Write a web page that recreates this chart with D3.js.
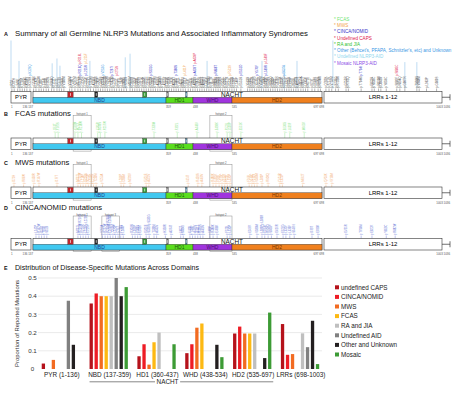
<!DOCTYPE html>
<html>
<head>
<meta charset="utf-8">
<script src="https://cdn.jsdelivr.net/npm/d3@7"></script>
<style>
  body { margin: 0; background: #fff; }
  svg { display: block; font-family: "Liberation Sans", Arial, Helvetica, sans-serif; }
</style>
</head>
<body>
<div id="chart"></div>
<script>
const width = 474;
const height = 395;

// ---------- protein map data ----------
const pyrRange = [1, 136];
const lrrRange = [698, 1003];
const proteinEnd = 1036;
const nachtDomains = ["NBD", "HD1", "WHD", "HD2"];
const nachtStarts = [137, 359, 438, 535];
const nachtEnds = [359, 438, 535, 697];
const motifStarts = [195, 240, 320, 361, 416];
const motifEnds = [204, 245, 327, 364, 420];
const tickGroups = [[1], [136, 137], [359], [438], [535], [697, 698], [1003, 1036]];

const catKeys = ["fcas", "mws", "cinca", "caps", "ra", "other", "aid", "mosaic"];
const catLabels = ["FCAS", "MWS", "CINCA/NOMID", "Undefined CAPS", "RA and JIA",
  "Other (Behcet's, PFAPA, Schnitzler's, etc) and Unknown", "Undefined NLRP3-AID", "Mosaic NLRP3-AID"];

// all germline mutations (panel A)
const mutsA = [
  "p.R7G", "p.D21H", "p.S46F", "p.E57K", "p.T75M", "p.R86W", "p.A104V", "p.K129R",
  "p.G138R", "p.L142P", "p.R147W", "p.I150T", "p.T154I", "p.S159I", "p.E162K", "p.R168Q", "p.I172T",
  "p.I177T", "p.F179S", "p.R183C", "p.V186M", "p.V198M", "p.P200T", "p.V207M", "p.M212L", "p.R216W",
  "p.G220S", "p.L225P", "p.C229Y", "p.T233M", "p.A238V", "p.G242R", "p.L245P", "p.G249S", "p.V253A",
  "p.R257W", "p.R260W", "p.L264H", "p.T267M", "p.L270P", "p.I275T", "p.F281L", "p.L284P", "p.I288M",
  "p.S293N", "p.M299V", "p.D303N", "p.L305P", "p.Q306L", "p.F309S", "p.E311K", "p.L316P", "p.G321E",
  "p.G326E", "p.S331R", "p.L336F", "p.T339M", "p.A343V", "p.T348M", "p.V351L", "p.A352V", "p.L353P",
  "p.H358R",
  "p.L362P", "p.A374T", "p.T380I", "p.F392L", "p.I402T", "p.M406I", "p.L411F", "p.I424T", "p.F429L", "p.T436I",
  "p.A439V", "p.F443L", "p.R450S", "p.A455V", "p.A460V", "p.L465P", "p.T470M", "p.N477K", "p.I480F",
  "p.R488K", "p.E495K", "p.E498K", "p.F503L", "p.Y510C", "p.E517K", "p.F523L", "p.E525K", "p.L530P",
  "p.L540P", "p.E551K", "p.Y563N", "p.F566L", "p.E567K", "p.G569R", "p.Y570C", "p.F575S", "p.V580M",
  "p.Q584K", "p.L589P", "p.E594K", "p.R600Q", "p.S606F", "p.I610T", "p.G616R", "p.C621R", "p.L625P",
  "p.E627G", "p.L632F", "p.E635K", "p.L639F", "p.P643L", "p.S647N", "p.A652V", "p.M659K", "p.M662T",
  "p.L665P", "p.K671E", "p.I679T", "p.E684K", "p.E690K", "p.R694W",
  "p.Q703K", "p.S711N", "p.V718M", "p.S728G", "p.R735W", "p.G755R", "p.R761Q", "p.T794M", "p.E822K",
  "p.Y828C", "p.R839W", "p.D843N", "p.Y859C", "p.S886F", "p.R894Q", "p.G907R", "p.T938M", "p.V944M",
  "p.L963P", "p.G989S"
];
// extra variants stacked on the same residue, with their syndrome
const mutsAStacked = [
  ["p.K129Q", "other"], ["p.R216Q", "cinca"], ["p.R216L", "caps"], ["p.L225R", "cinca"], ["p.L225F", "mws"],
  ["p.V253G", "other"], ["p.T267I", "cinca"], ["p.I275N", "caps"], ["p.S331G", "cinca"], ["p.T380N", "cinca"],
  ["p.L411P", "mws"], ["p.A439T", "cinca"], ["p.A439P", "caps"], ["p.R488T", "cinca"], ["p.F523S", "mws"],
  ["p.E551D", "cinca"], ["p.Y570F", "cinca"], ["p.L589R", "cinca"], ["p.L589F", "caps"], ["p.E627K", "other"],
  ["p.T794I", "cinca"], ["p.S886C", "caps"]
];
// long leader lines (residue, height in label rows)
const stemResA = [1, 55, 169, 177, 182, 232, 291, 299, 473, 589, 629, 652, 721, 907, 938];
const stemRowsA = [4.0, 2.3, 2.1, 2.5, 1.9, 2.3, 2.6, 2.9, 2.3, 2.3, 1.9, 2.3, 4.0, 2.2, 2.2];

const mutsB = [
  "p.I174T", "p.F179S", "p.V207M", "p.M212L", "p.R218W", "p.L245P", "p.G249S", "p.R257W", "p.T339M",
  "p.F392L", "p.A448V", "p.E498K", "p.F523L", "p.L530P", "p.E551K", "p.E630G", "p.L639F", "p.M665K"
];
const mutsC = [
  "p.D21H", "p.R86W", "p.G138R", "p.R147W", "p.I177T", "p.M212L", "p.R216W", "p.L218P", "p.G220S",
  "p.S223P", "p.L225P", "p.C229Y", "p.T233M", "p.V253A", "p.L284P", "p.I288M", "p.M299V", "p.G326E",
  "p.A329V", "p.I424T", "p.R450S", "p.A460V", "p.R488K", "p.E495K", "p.F503L", "p.Y510C", "p.E517K",
  "p.F523L", "p.L530P", "p.F566L", "p.Y570C", "p.F575S", "p.V580M", "p.L589P", "p.R600Q", "p.C621R",
  "p.L625P", "p.M662T", "p.Q703K", "p.V718M"
];
const mutsD = [
  "p.L142P", "p.R147W", "p.I150T", "p.T154I", "p.S159I", "p.M212L", "p.R216W", "p.R216Q", "p.G220S",
  "p.L225P", "p.L225R", "p.C229Y", "p.V253A", "p.R257W", "p.R260W", "p.R260L", "p.L264H", "p.L264R",
  "p.T267M", "p.L270P", "p.I275T", "p.F279S", "p.L284P", "p.D303N", "p.L305P", "p.F309S", "p.E311K",
  "p.G326E", "p.S331R", "p.S331G", "p.T339M", "p.A343V", "p.H358R", "p.A374T", "p.I402T", "p.M406I",
  "p.F429L", "p.T436I", "p.A439V", "p.A441T", "p.R450S", "p.A460V", "p.I480F", "p.R488K", "p.E498K",
  "p.F523L", "p.L530P", "p.E567K", "p.V580M", "p.L589P", "p.L589R", "p.E594K", "p.R600Q", "p.S606F",
  "p.G616R", "p.E627G", "p.L632F", "p.L639F", "p.S647N", "p.I679T", "p.E690K", "p.G755R", "p.T794M",
  "p.E822K", "p.Y859C", "p.R882W"
];
const hotspotStartsBC = [204, 480];
const hotspotEndsBC = [234, 535];
const hotspotNamesBC = ["hotspot 1", "hotspot 2"];
const hotspotStartsD = [204, 252, 480];
const hotspotEndsD = [234, 281, 535];
const hotspotNamesD = ["hotspot 1", "hotspot 3", "hotspot 2"];

// ---------- panel E data ----------
const domainsE = ["PYR (1-136)", "NBD (137-359)", "HD1 (360-437)", "WHD (438-534)", "HD2 (535-697)", "LRRs (698-1003)"];
const seriesE = ["undefined CAPS", "CINCA/NOMID", "MWS", "FCAS", "RA and JIA", "Undefined AID", "Other and Unknown", "Mosaic"];
const propPYR = [0.03, 0, 0.05, 0, 0, 0.375, 0.133, 0];
const propNBD = [0.36, 0.415, 0.40, 0.40, 0.40, 0.50, 0.40, 0.45];
const propHD1 = [0.07, 0.136, 0.024, 0.147, 0.20, 0, 0, 0.136];
const propWHD = [0.087, 0.136, 0.227, 0.25, 0, 0, 0.133, 0.065];
const propHD2 = [0.195, 0.233, 0.195, 0.195, 0.195, 0, 0.06, 0.31];
const propLRR = [0.247, 0.078, 0.082, 0, 0.196, 0.12, 0.265, 0.027];
const proportions = [propPYR, propNBD, propHD1, propWHD, propHD2, propLRR];
const yTicksE = [0, 0.1, 0.2, 0.3, 0.4, 0.5];

// ---------- styles ----------
const catColor = d3.scaleOrdinal(catKeys,
  ["#6fe56f", "#f2a24c", "#3535c8", "#e0214b", "#2fbf2f", "#3a97e4", "#8fd6ee", "#8c4ee6"]);
const domainFill = d3.scaleOrdinal(nachtDomains, ["#40c8f0", "#5ade1e", "#a035de", "#f0801e"]);
const domainInk = d3.scaleOrdinal(nachtDomains, ["#1c3c8c", "#1d5a10", "#4a1070", "#7a3400"]);
const motifColors = ["#c0272d", "#222222", "#3a9a3a", "#707070", "#3a7c9c"];
const seriesColor = d3.scaleOrdinal(seriesE,
  ["#b5121b", "#ee1c25", "#f26b21", "#fdb913", "#bfbfbf", "#808080", "#231f20", "#3d9b35"]);

const svg = d3.select("#chart")
  .append("svg")
  .attr("width", width)
  .attr("height", height)
  .style("background", "#fff");

// residue -> x, one linear piece per domain
const xRes = d3.scaleLinear()
  .domain([1, 136, 137, 359, 438, 535, 697, 698, 1003, 1036])
  .range([11, 31, 33, 166, 193, 232, 322, 324, 442, 450]);

const boxH = 11.5;
const resOf = lab => +lab.match(/\d+/)[0];

function panelTitle(letter, title, y, size) {
  svg.append("text").attr("x", 4).attr("y", y)
    .attr("font-size", 5.4).attr("font-weight", "bold").attr("fill", "#111").text(letter);
  svg.append("text").attr("x", 15).attr("y", y)
    .attr("font-size", size).attr("fill", "#111").text(title);
}

function drawMap(top) {
  const g = svg.append("g");
  const mid = top + boxH / 2;

  // PYR
  g.append("rect").attr("x", xRes(pyrRange[0])).attr("y", top)
    .attr("width", xRes(pyrRange[1]) - xRes(pyrRange[0])).attr("height", boxH)
    .attr("fill", "#fff").attr("stroke", "#333").attr("stroke-width", 0.6);
  g.append("text").attr("x", (xRes(pyrRange[0]) + xRes(pyrRange[1])) / 2).attr("y", mid)
    .attr("dy", "0.36em").attr("text-anchor", "middle").attr("font-size", 5.8).text("PYR");

  // NACHT outline + sub-domains
  g.append("rect").attr("x", xRes(137)).attr("y", top)
    .attr("width", xRes(697) - xRes(137)).attr("height", boxH)
    .attr("fill", "#fff").attr("stroke", "#333").attr("stroke-width", 0.6);
  nachtDomains.forEach((d, i) => {
    g.append("rect").attr("x", xRes(nachtStarts[i])).attr("y", mid)
      .attr("width", xRes(nachtEnds[i]) - xRes(nachtStarts[i])).attr("height", boxH / 2)
      .attr("fill", domainFill(d)).attr("stroke", "#333").attr("stroke-width", 0.4);
    g.append("text").attr("x", (xRes(nachtStarts[i]) + xRes(nachtEnds[i])) / 2).attr("y", mid + boxH / 4)
      .attr("dy", "0.36em").attr("text-anchor", "middle").attr("font-size", 5)
      .attr("fill", domainInk(d)).text(d);
  });
  motifStarts.forEach((s, i) => {
    g.append("rect").attr("x", xRes(s)).attr("y", top + 0.4)
      .attr("width", Math.max(1.6, xRes(motifEnds[i]) - xRes(s))).attr("height", boxH / 2 - 0.4)
      .attr("fill", motifColors[i]).attr("stroke", "#222").attr("stroke-width", 0.3);
    g.append("rect").attr("x", (xRes(s) + xRes(motifEnds[i])) / 2 - 0.4).attr("y", top + 1.6)
      .attr("width", 0.8).attr("height", boxH / 2 - 3).attr("fill", "#fff").attr("opacity", 0.8);
  });
  g.append("text").attr("x", xRes(535)).attr("y", top + boxH / 4 + 0.2)
    .attr("dy", "0.36em").attr("text-anchor", "middle").attr("font-size", 6.4).attr("fill", "#111").text("NACHT");

  // LRR + tail
  g.append("rect").attr("x", xRes(lrrRange[0])).attr("y", top)
    .attr("width", xRes(lrrRange[1]) - xRes(lrrRange[0])).attr("height", boxH)
    .attr("fill", "#fff").attr("stroke", "#333").attr("stroke-width", 0.6);
  g.append("text").attr("x", (xRes(lrrRange[0]) + xRes(lrrRange[1])) / 2).attr("y", mid)
    .attr("dy", "0.36em").attr("text-anchor", "middle").attr("font-size", 6).text("LRRs 1-12");
  g.append("line").attr("x1", xRes(lrrRange[1])).attr("x2", xRes(proteinEnd)).attr("y1", mid).attr("y2", mid)
    .attr("stroke", "#333").attr("stroke-width", 0.7);
  g.append("line").attr("x1", xRes(proteinEnd)).attr("x2", xRes(proteinEnd)).attr("y1", mid - 3).attr("y2", mid + 3)
    .attr("stroke", "#333").attr("stroke-width", 0.7);

  // residue numbers
  tickGroups.forEach(tg => {
    const last = tg[tg.length - 1];
    g.append("text")
      .attr("x", tg.length > 1 ? xRes(last) : xRes(tg[0]))
      .attr("y", top + boxH + 5)
      .attr("text-anchor", tg.length > 1 ? "end" : "start")
      .attr("font-size", 2.9).attr("fill", "#555").text(tg.join(" "));
  });
}

function drawHotspots(top, starts, ends, names) {
  starts.forEach((s, i) => {
    const x0 = xRes(s), x1 = xRes(ends[i]);
    svg.append("rect").attr("x", x0).attr("y", top - 22.5)
      .attr("width", x1 - x0).attr("height", 22.5 + boxH + 1.6)
      .attr("fill", "none").attr("stroke", "#8a8a8a").attr("stroke-width", 0.5);
    svg.append("text").attr("x", (x0 + x1) / 2).attr("y", top - 23)
      .attr("text-anchor", "middle").attr("font-size", 2.7).attr("fill", "#555").text(names[i]);
  });
}

// label columns: same residue stacks upwards, close residues are pushed apart
function drawMutations(items, top, base, step, gap, size, stemColor) {
  const cols = d3.groups(items, d => d.res).sort((a, b) => a[0] - b[0]);
  let last = -Infinity;
  const laid = cols.map(([res, list]) => {
    const x = Math.max(xRes(res), last + gap);
    last = x;
    return { res, x, list };
  });
  const g = svg.append("g");
  g.selectAll("line").data(laid).join("line")
    .attr("x1", d => d.x).attr("x2", d => d.x)
    .attr("y1", base).attr("y2", top)
    .attr("stroke", d => stemColor || d.list[0].color).attr("stroke-width", 0.4);
  const flat = laid.flatMap(c => c.list.map((m, i) => ({ x: c.x, level: i, label: m.label, color: m.color })));
  g.selectAll("text").data(flat).join("text")
    .attr("transform", d => `translate(${d.x},${base - 0.5 - d.level * step}) rotate(-90)`)
    .attr("dy", "0.35em")
    .attr("font-size", size)
    .attr("fill", d => d.color)
    .text(d => d.label);
}

// ---------- panel A ----------
const topA = 91.5, baseA = 88.5;
panelTitle("A", "Summary of all Germline NLRP3 Mutations and Associated Inflammatory Syndromes", 36.3, 7.8);
stemResA.forEach((r, i) => {
  svg.append("line").attr("x1", xRes(r)).attr("x2", xRes(r))
    .attr("y1", baseA).attr("y2", baseA - stemRowsA[i] * 12)
    .attr("stroke", "#93c4ea").attr("stroke-width", 0.6);
});
const itemsA = mutsA.map(l => ({ label: l, res: resOf(l), color: "#505050" }))
  .concat(mutsAStacked.map(([l, c]) => ({ label: l, res: resOf(l), color: catColor(c) })));
drawMutations(itemsA, topA, baseA, 12, 2.3, 2.9, "#444");
drawMap(topA);

catLabels.forEach((t, i) => {
  svg.append("text").attr("x", 334).attr("y", 19.2 + i * 6.25).attr("dy", "0.35em")
    .attr("font-size", 4.6).attr("fill", catColor(catKeys[i])).text("* " + t);
});

// ---------- panels B, C, D ----------
const topB = 138, topC = 187, topD = 238.5;
panelTitle("B", "FCAS mutations", 115.5, 7.7);
drawHotspots(topB, hotspotStartsBC, hotspotEndsBC, hotspotNamesBC);
drawMutations(mutsB.map(l => ({ label: l, res: resOf(l), color: "#86e386" })), topB, 133, 11.5, 2.6, 2.7);
drawMap(topB);

panelTitle("C", "MWS mutations", 164.5, 7.7);
drawHotspots(topC, hotspotStartsBC, hotspotEndsBC, hotspotNamesBC);
drawMutations(mutsC.map(l => ({ label: l, res: resOf(l), color: "#f2aa70" })), topC, 184.5, 12, 2.6, 2.7);
drawMap(topC);

panelTitle("D", "CINCA/NOMID mutations", 210.3, 7.7);
drawHotspots(topD, hotspotStartsD, hotspotEndsD, hotspotNamesD);
drawMutations(mutsD.map(l => ({ label: l, res: resOf(l), color: "#6070d4" })), topD, 235.5, 10, 2.6, 2.7);
drawMap(topD);

// ---------- panel E ----------
panelTitle("E", "Distribution of Disease-Specific Mutations Across Domains", 270.3, 7.1);

const yE = d3.scaleLinear().domain([0, 0.5]).range([369, 278]);
const x0 = d3.scaleBand().domain(domainsE).range([37.9, 324.9]).paddingInner(0.16).paddingOuter(0.08);
const x1 = d3.scaleBand().domain(seriesE).range([0, 38.3]).paddingInner(0.34);

svg.append("g").selectAll("line").data(yTicksE.filter(t => t > 0)).join("line")
  .attr("x1", 38).attr("x2", 322)
  .attr("y1", d => yE(d)).attr("y2", d => yE(d))
  .attr("stroke", "#dcdcdc").attr("stroke-width", 0.6);

svg.append("g").selectAll("text").data(yTicksE).join("text")
  .attr("x", 32.5).attr("y", d => yE(d)).attr("dy", "0.36em")
  .attr("text-anchor", "middle").attr("font-size", 6.2).attr("fill", "#333")
  .text(d => d === 0 ? "0" : d3.format(".1f")(d));

svg.append("text")
  .attr("transform", `translate(18.5,${(yE(0) + yE(0.5)) / 2}) rotate(-90)`)
  .attr("text-anchor", "middle").attr("font-size", 5.9).attr("fill", "#333")
  .text("Proportion of Reported Mutations");

const groupsE = svg.append("g").selectAll("g").data(domainsE).join("g")
  .attr("transform", d => `translate(${x0(d)},0)`);
groupsE.selectAll("rect")
  .data((d, i) => seriesE.map((s, j) => ({ s, v: proportions[i][j] })).filter(e => e.v > 0))
  .join("rect")
  .attr("x", e => x1(e.s))
  .attr("y", e => yE(e.v))
  .attr("width", x1.bandwidth())
  .attr("height", e => yE(0) - yE(e.v))
  .attr("fill", e => seriesColor(e.s));

svg.append("g").selectAll("text").data(domainsE).join("text")
  .attr("x", d => x0(d) + x0.bandwidth() / 2).attr("y", 377)
  .attr("text-anchor", "middle").attr("font-size", 6.4).attr("fill", "#222")
  .text(d => d);

// NACHT bracket under NBD..HD2
const brY = 381.8;
svg.append("line")
  .attr("x1", x0("NBD (137-359)")).attr("x2", x0("HD2 (535-697)") + x0.bandwidth())
  .attr("y1", brY).attr("y2", brY).attr("stroke", "#555").attr("stroke-width", 0.7);
const nachtBg = svg.append("rect").attr("fill", "#fff");
const nachtLab = svg.append("text")
  .attr("x", x0("HD1 (360-437)") + x0.bandwidth() * 0.75).attr("y", brY).attr("dy", "0.36em")
  .attr("text-anchor", "middle").attr("font-size", 6.4).attr("fill", "#222").text("NACHT");
const bb = nachtLab.node().getBBox();
nachtBg.attr("x", bb.x - 1.5).attr("y", bb.y).attr("width", bb.width + 3).attr("height", bb.height);

// legend E
const legE = svg.append("g").selectAll("g").data(seriesE).join("g")
  .attr("transform", (d, i) => `translate(335,${287.3 + i * 9.6})`);
legE.append("rect").attr("x", 0).attr("y", -2).attr("width", 4).attr("height", 4)
  .attr("fill", d => seriesColor(d));
legE.append("text").attr("x", 6).attr("y", 0).attr("dy", "0.36em")
  .attr("font-size", 6.3).attr("fill", "#222").text(d => d);
</script>
</body>
</html>
